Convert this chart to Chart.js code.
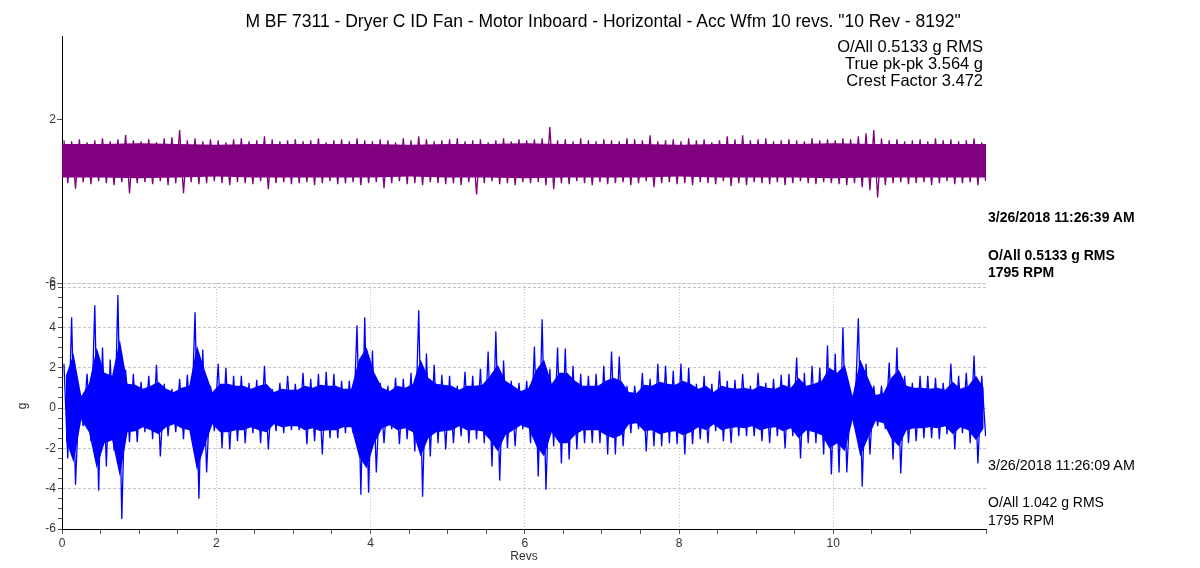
<!DOCTYPE html>
<html>
<head>
<meta charset="utf-8">
<script src="https://cdn.jsdelivr.net/npm/chart.js@4.4.1/dist/chart.umd.min.js"></script>
<style>
    body { margin: 0; background: #fff; font-family: "Liberation Sans", Arial, sans-serif; }
    #wrap { position: relative; width: 1200px; height: 568px; overflow: hidden; }
    canvas { position: absolute; left: 0; top: 0; }
    .txt { position: absolute; white-space: nowrap; color: #000; }
</style>
</head>
<body>
<div id="wrap">
    <canvas id="graficoAbajo" width="1200" height="568"></canvas>
    <canvas id="graficoArriba" width="1200" height="568"></canvas>

    <div class="txt" style="left:0; width:1206px; top:11px; text-align:center; font-size:17.5px;">M BF 7311 - Dryer C ID Fan - Motor Inboard - Horizontal - Acc Wfm 10 revs. "10 Rev - 8192"</div>

    <div class="txt" style="right:217px; top:38px; text-align:right; font-size:16.5px; line-height:17px;">O/All 0.5133 g RMS<br>True pk-pk 3.564 g<br>Crest Factor 3.472</div>

    <div class="txt" style="left:988px; top:209px; font-size:14px; font-weight:bold;">3/26/2018 11:26:39 AM</div>
    <div class="txt" style="left:988px; top:247px; font-size:14px; font-weight:bold; line-height:17px;">O/All 0.5133 g RMS<br>1795 RPM</div>

    <div class="txt" style="left:988px; top:457px; font-size:14.3px;">3/26/2018 11:26:09 AM</div>
    <div class="txt" style="left:988px; top:493px; font-size:14px; line-height:18px;">O/All 1.042 g RMS<br>1795 RPM</div>
</div>

<script>
/*******************************************************************************/
// Datos (envolvente leida por intervalos de 0.1 rev)

const binRev = 0.1;
const revsMax = 11.98;

// Forma de onda inferior (azul), g
const blueMax = [
    2.2, 4.5, 0.8, 1.7, 5.1, 3.0, 2.4, 5.6, 1.9, 1.7,
    1.3, 1.6, 2.15, 1.2, 0.95, 1.45, 1.65, 4.75, 2.9, 1.1,
    2.2, 2.0, 1.6, 1.6, 1.25, 1.4, 2.1, 0.95, 1.25, 1.6,
    1.2, 1.75, 1.45, 1.7, 1.8, 1.7, 1.35, 1.35, 4.1, 4.5,
    2.85, 1.25, 1.1, 1.5, 1.45, 1.75, 4.85, 2.7, 2.15, 1.65,
    1.6, 1.1, 1.8, 1.6, 1.95, 2.8, 3.8, 2.35, 1.35, 1.25,
    1.35, 3.05, 4.4, 1.95, 3.0, 2.95, 2.1, 1.7, 1.6, 1.7,
    2.1, 2.8, 2.55, 1.1, 1.1, 1.75, 1.45, 2.2, 2.1, 1.85,
    2.2, 2.0, 1.2, 1.6, 1.2, 1.85, 1.35, 1.4, 1.7, 1.1,
    1.75, 1.25, 1.45, 1.65, 1.7, 2.5, 1.75, 2.1, 2.0, 3.1,
    2.7, 4.0, 0.75, 4.45, 2.2, 1.1, 1.1, 2.25, 3.0, 1.6,
    1.25, 1.6, 1.6, 1.5, 1.25, 2.2, 1.6, 1.75, 2.6, 1.6
];
const blueMin = [
    -2.5, -3.8, -0.9, -1.65, -4.1, -2.9, -2.1, -5.5, -1.7, -1.7,
    -1.2, -1.55, -2.4, -1.4, -1.2, -1.55, -1.3, -4.5, -3.2, -1.15,
    -2.0, -2.05, -1.65, -1.75, -1.25, -1.75, -2.05, -1.15, -1.25, -1.1,
    -1.1, -1.8, -1.65, -2.3, -1.5, -1.5, -1.25, -1.25, -4.3, -4.2,
    -3.2, -1.75, -1.05, -1.8, -1.55, -2.15, -4.4, -2.4, -1.75, -2.05,
    -1.75, -1.4, -1.75, -1.55, -1.75, -2.9, -3.6, -2.0, -1.9, -1.05,
    -1.75, -3.4, -4.05, -1.9, -2.75, -2.55, -2.05, -1.75, -1.75, -1.75,
    -2.3, -2.3, -1.9, -1.25, -1.05, -2.15, -1.9, -1.9, -1.75, -1.8,
    -2.3, -1.8, -1.55, -1.75, -1.15, -1.65, -1.75, -1.4, -1.4, -1.4,
    -1.65, -1.75, -1.4, -2.0, -1.4, -2.5, -1.75, -1.75, -2.3, -3.3,
    -3.2, -3.2, -0.9, -3.9, -2.3, -0.9, -1.05, -2.55, -3.25, -1.75,
    -1.65, -1.5, -1.5, -1.55, -1.3, -2.05, -1.25, -1.75, -2.75, -1.4
];
// zona densa central (amplitud)
const blueCore = [
    1.6, 2.7, 0.6, 1.2, 3.0, 1.75, 1.6, 3.4, 1.2, 1.15,
    0.95, 1.1, 1.3, 0.95, 0.8, 1.0, 1.1, 3.1, 1.9, 0.8,
    1.2, 1.2, 1.1, 1.1, 0.95, 1.1, 1.2, 0.8, 0.95, 0.9,
    0.9, 1.1, 1.0, 1.15, 1.1, 1.1, 0.95, 0.95, 2.4, 3.0,
    1.75, 1.0, 0.85, 1.1, 1.0, 1.2, 2.4, 1.5, 1.2, 1.15,
    1.1, 0.9, 1.1, 1.1, 1.15, 1.6, 2.15, 1.35, 1.1, 0.85,
    1.0, 1.9, 2.4, 1.2, 1.75, 1.75, 1.35, 1.1, 1.1, 1.1,
    1.35, 1.5, 1.35, 0.8, 0.75, 1.15, 1.1, 1.3, 1.2, 1.15,
    1.35, 1.2, 0.95, 1.1, 0.8, 1.1, 1.0, 0.95, 1.0, 0.9,
    1.1, 1.0, 0.95, 1.15, 1.0, 1.5, 1.1, 1.2, 1.35, 2.0,
    1.75, 2.15, 0.6, 2.4, 1.5, 0.65, 0.75, 1.5, 1.9, 1.1,
    1.0, 1.0, 0.95, 1.0, 0.9, 1.3, 0.95, 1.1, 1.6, 1.0
];

// Forma de onda superior (morada), g
const purpleMax = [
    1.0, 0.95, 1.05, 0.9, 1.0, 1.1, 0.95, 1.05, 1.26, 1.0,
    0.95, 1.05, 0.9, 1.1, 1.15, 1.5, 1.0, 1.1, 0.95, 1.05,
    1.0, 0.9, 1.05, 1.1, 0.95, 1.0, 1.2, 1.05, 0.95, 1.0,
    1.05, 0.95, 1.0, 1.1, 0.9, 1.0, 1.05, 0.95, 1.1, 1.0,
    0.95, 1.05, 1.0, 0.9, 1.1, 1.0, 1.2, 1.05, 0.95, 1.0,
    1.05, 1.1, 0.95, 1.0, 1.05, 0.9, 1.0, 1.1, 0.95, 1.05,
    1.0, 1.05, 1.1, 1.65, 1.0, 1.05, 0.95, 1.1, 1.0, 0.95,
    1.05, 1.0, 0.95, 1.1, 1.05, 1.0, 1.25, 0.95, 1.0, 1.05,
    0.95, 1.1, 1.0, 1.05, 0.9, 1.0, 1.2, 1.05, 1.25, 1.0,
    1.05, 1.1, 0.95, 1.0, 1.05, 1.0, 0.95, 1.1, 1.0, 1.05,
    1.0, 1.1, 1.05, 1.2, 1.35, 1.5, 1.1, 1.0, 1.05, 0.95,
    1.0, 1.05, 0.95, 1.1, 1.0, 1.05, 0.95, 1.0, 1.1, 0.9
];
const purpleMin = [
    -1.1, -1.37, -1.05, -1.15, -1.0, -1.1, -1.2, -1.05, -1.6, -1.1,
    -1.05, -1.15, -1.0, -1.2, -1.1, -1.6, -1.05, -1.15, -1.1, -1.0,
    -1.1, -1.2, -1.05, -1.1, -1.15, -1.0, -1.4, -1.1, -1.05, -1.15,
    -1.1, -1.05, -1.2, -1.1, -1.0, -1.15, -1.1, -1.05, -1.2, -1.1,
    -1.05, -1.35, -1.1, -1.0, -1.15, -1.1, -1.2, -1.05, -1.1, -1.15,
    -1.1, -1.2, -1.05, -1.65, -1.1, -1.0, -1.15, -1.1, -1.2, -1.05,
    -1.1, -1.05, -1.2, -1.4, -1.1, -1.15, -1.0, -1.1, -1.2, -1.05,
    -1.15, -1.1, -1.05, -1.2, -1.1, -1.0, -1.3, -1.1, -1.05, -1.15,
    -1.1, -1.2, -1.05, -1.1, -1.15, -1.0, -1.25, -1.1, -1.2, -1.05,
    -1.1, -1.15, -1.05, -1.2, -1.1, -1.0, -1.1, -1.15, -1.05, -1.1,
    -1.15, -1.2, -1.1, -1.3, -1.45, -1.8, -1.2, -1.1, -1.05, -1.15,
    -1.1, -1.05, -1.2, -1.1, -1.0, -1.15, -1.1, -1.05, -1.2, -1.0
];
// zona densa central, cada 0.5 rev
const purpleCore = [
    0.82, 0.82, 0.86, 0.82, 0.78, 0.82, 0.82, 0.82, 0.82, 0.78, 0.82, 0.82, 0.86,
    0.82, 0.82, 0.82, 0.78, 0.82, 0.82, 0.82, 0.86, 0.82, 0.82, 0.82, 0.82
];

/*******************************************************************************/
// Armado de datasets

function datosOnda(maximos, minimos, nucleo, pasoNucleo, color) {
    // recorrido alternando pico positivo y negativo de cada intervalo
    let recorrido = [];
    maximos.forEach((v, i) => {
        recorrido.push({ x: i * binRev + 0.025, y: v });
        recorrido.push({ x: i * binRev + 0.075, y: minimos[i] });
    });
    let nucleoAlto = nucleo.map((v, i) => ({ x: i * pasoNucleo.paso + pasoNucleo.inicio, y: v }));
    let nucleoBajo = nucleo.map((v, i) => ({ x: i * pasoNucleo.paso + pasoNucleo.inicio, y: -v }));

    return [
        { data: recorrido, borderWidth: 1.3, pointRadius: 0, borderColor: color, fill: false, tension: 0 },
        { data: nucleoAlto, borderWidth: 0, pointRadius: 0, fill: "+1", backgroundColor: color, borderColor: color },
        { data: nucleoBajo, borderWidth: 0, pointRadius: 0, fill: false, borderColor: color }
    ];
}

Chart.defaults.font.family = "'Liberation Sans', Arial, sans-serif";
Chart.defaults.font.size = 12;
Chart.defaults.color = "#333";
Chart.defaults.animation = false;

const colorGrid = "#c4c4c4";

// linea punteada sobre el borde superior del area
const bordeSuperior = {
    id: "bordeSuperior",
    afterDraw(chart) {
        const { ctx, chartArea } = chart;
        ctx.save();
        ctx.strokeStyle = colorGrid;
        ctx.setLineDash([3, 2]);
        ctx.beginPath();
        ctx.moveTo(chartArea.left, chartArea.top + 0.5);
        ctx.lineTo(chartArea.right, chartArea.top + 0.5);
        ctx.stroke();
        ctx.restore();
    }
};

/*******************************************************************************/
// Grafico inferior

new Chart(document.getElementById("graficoAbajo"), {
    type: "line",
    data: { datasets: datosOnda(blueMax, blueMin, blueCore, { paso: binRev, inicio: 0.05 }, "#0000ff") },
    options: {
        responsive: false,
        layout: { padding: { left: 11, right: 214, top: 283, bottom: 0 } },
        plugins: { legend: { display: false }, tooltip: { enabled: false } },
        scales: {
            x: {
                type: "linear",
                min: 0,
                max: revsMax,
                afterFit: (s) => { s.height = 39; },
                title: { display: true, text: "Revs", font: { size: 12 }, padding: { top: 2, bottom: 4 } },
                ticks: {
                    stepSize: 0.5,
                    autoSkip: false,
                    maxRotation: 0,
                    padding: 2,
                    callback: (v) => (v % 2 === 0 ? String(v) : "")
                },
                grid: {
                    color: (c) => (c.tick && c.tick.value % 2 === 0 && c.tick.value !== 0 ? colorGrid : "transparent"),
                    tickColor: "#555",
                    tickLength: 5
                },
                border: { color: "#000", width: 1, dash: [1, 2] }
            },
            y: {
                min: -6,
                max: 6.2,
                afterFit: (s) => { s.width = 51; },
                title: { display: true, text: "g", font: { size: 12 } },
                ticks: {
                    stepSize: 0.5,
                    autoSkip: false,
                    includeBounds: false,
                    padding: 2,
                    callback: (v) => (v % 2 === 0 ? String(v) : "")
                },
                grid: {
                    color: (c) => (c.tick && c.tick.value % 2 === 0 ? colorGrid : "transparent"),
                    tickColor: "#555",
                    tickLength: 4
                },
                border: { color: "#000", width: 1, dash: [3, 2] }
            }
        }
    },
    plugins: [bordeSuperior]
});

/*******************************************************************************/
// Grafico superior

new Chart(document.getElementById("graficoArriba"), {
    type: "line",
    data: { datasets: datosOnda(purpleMax, purpleMin, purpleCore, { paso: 0.5, inicio: 0 }, "#800080") },
    options: {
        responsive: false,
        layout: { padding: { left: 0, right: 214, top: 36, bottom: 285 } },
        plugins: { legend: { display: false }, tooltip: { enabled: false } },
        scales: {
            x: { type: "linear", min: 0, max: revsMax, display: false },
            y: {
                min: -6,
                max: 6.12,
                afterFit: (s) => { s.width = 62; },
                afterBuildTicks: (s) => { s.ticks = [{ value: -6 }, { value: 2 }]; },
                ticks: { padding: 1, callback: (v) => String(v) },
                grid: {
                    color: (c) => (c.tick && c.tick.value === -6 ? colorGrid : "transparent"),
                    tickColor: "#555",
                    tickLength: 5
                },
                border: { color: "#000", width: 1, dash: [3, 2] }
            }
        }
    }
});
</script>
</body>
</html>
